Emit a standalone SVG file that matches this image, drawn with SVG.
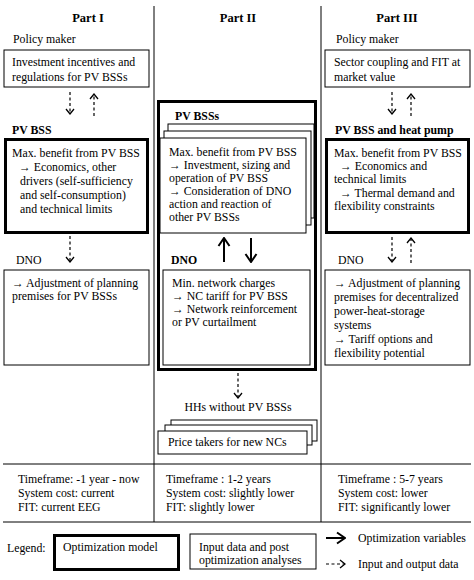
<svg xmlns="http://www.w3.org/2000/svg" width="474" height="580" viewBox="0 0 474 580">
<style>
text{font-family:"Liberation Serif","Times New Roman",serif;font-size:11.8px;fill:#000}
.b{font-weight:bold}
.h{font-weight:bold;font-size:12.5px}
.thin{fill:#fff;stroke:#000;stroke-width:1}
.thick{fill:#fff;stroke:#000;stroke-width:3}
.sep{stroke:#000;stroke-width:1;fill:none}
.dash{stroke:#000;stroke-width:1.2;stroke-dasharray:3,2.5;fill:none;marker-end:url(#openS)}
.solid{stroke:#000;stroke-width:2;fill:none;marker-end:url(#openB)}
</style>
<defs>
<marker id="openS" viewBox="-7 -5 8 10" refX="0" refY="0" markerWidth="8" markerHeight="10" orient="auto" markerUnits="userSpaceOnUse">
<path d="M-5,-4 L0,0 L-5,4" fill="none" stroke="#000" stroke-width="1.3"/>
</marker>
<marker id="openB" viewBox="-10 -7 11 14" refX="0" refY="0" markerWidth="11" markerHeight="14" orient="auto" markerUnits="userSpaceOnUse">
<path d="M-8,-5.5 L0,0 L-8,5.5" fill="none" stroke="#000" stroke-width="2"/>
</marker>
</defs>
<rect width="474" height="580" fill="#fff"/>

<g id="grid">
<line class="sep" x1="154" y1="6" x2="154" y2="522"/>
<line class="sep" x1="321" y1="6" x2="321" y2="522"/>
<line class="sep" x1="3" y1="464" x2="471" y2="464"/>
<line class="sep" x1="3" y1="522" x2="471" y2="522"/>
</g>

<g id="headers">
<text class="h" x="88" y="22" text-anchor="middle">Part I</text>
<text class="h" x="238" y="22" text-anchor="middle">Part II</text>
<text class="h" x="397" y="22" text-anchor="middle">Part III</text>
</g>

<g id="p1-policy">
<text x="13" y="43">Policy maker</text>
<rect class="thin" x="4" y="50" width="145" height="37"/>
<text x="12" y="66">Investment incentives and</text>
<text x="12" y="81">regulations for PV BSSs</text>
</g>

<g id="p1-pvbss">
<text class="b" x="12" y="134">PV BSS</text>
<rect class="thick" x="5.5" y="139.5" width="142" height="93"/>
<text x="12" y="157">Max. benefit from PV BSS</text>
<text x="19" y="171">→ Economics, other</text>
<text x="20" y="185">drivers (self-sufficiency</text>
<text x="20" y="199">and self-consumption)</text>
<text x="20" y="213">and technical limits</text>
</g>

<g id="p1-dno">
<text x="16" y="264">DNO</text>
<rect class="thin" x="4" y="270" width="145" height="95"/>
<text x="12" y="287">→ Adjustment of planning</text>
<text x="12" y="300">premises for PV BSSs</text>
</g>

<g id="p2-model">
<rect class="thick" x="158.5" y="101.5" width="157" height="268"/>
<text class="b" x="175" y="120">PV BSSs</text>
</g>

<g id="p2-pvbss">
<rect class="thin" x="168" y="124" width="146" height="94"/>
<rect class="thin" x="164" y="131" width="147" height="94"/>
<rect class="thin" x="160" y="138" width="146" height="95"/>
<text x="169" y="156">Max. benefit from PV BSS</text>
<text x="169" y="169">→ Investment, sizing and</text>
<text x="169" y="182">operation of PV BSS</text>
<text x="169" y="195">→ Consideration of DNO</text>
<text x="169" y="208">action and reaction of</text>
<text x="169" y="221">other PV BSSs</text>
</g>

<g id="p2-dno">
<text class="b" x="171" y="264">DNO</text>
<rect class="thin" x="163" y="270" width="147" height="95"/>
<text x="172" y="287">Min. network charges</text>
<text x="172" y="300">→ NC tariff for PV BSS</text>
<text x="172" y="313">→ Network reinforcement</text>
<text x="172" y="326">or PV curtailment</text>
</g>

<g id="p2-hh">
<text x="238" y="411" text-anchor="middle">HHs without PV BSSs</text>
<rect class="thin" x="171" y="420" width="146" height="21"/>
<rect class="thin" x="165" y="425" width="147" height="20"/>
<rect class="thin" x="158" y="431" width="149" height="23"/>
<text x="168" y="446">Price takers for new NCs</text>
</g>

<g id="p3-policy">
<text x="336" y="43">Policy maker</text>
<rect class="thin" x="325" y="50" width="145" height="37"/>
<text x="334" y="66">Sector coupling and FIT at</text>
<text x="334" y="81">market value</text>
</g>

<g id="p3-pvbss">
<text class="b" x="335" y="134">PV BSS and heat pump</text>
<rect class="thick" x="326.5" y="139.5" width="142" height="93"/>
<text x="334" y="157">Max. benefit from PV BSS</text>
<text x="340" y="170">→ Economics and</text>
<text x="334" y="183">technical limits</text>
<text x="340" y="197">→ Thermal demand and</text>
<text x="334" y="210">flexibility constraints</text>
</g>

<g id="p3-dno">
<text x="338" y="264">DNO</text>
<rect class="thin" x="325" y="270" width="145" height="95"/>
<text x="334" y="287">→ Adjustment of planning</text>
<text x="334" y="301">premises for decentralized</text>
<text x="334" y="315">power-heat-storage</text>
<text x="334" y="329">systems</text>
<text x="334" y="343">→ Tariff options and</text>
<text x="334" y="357">flexibility potential</text>
</g>

<g id="timeframes">
<text x="18" y="483">Timeframe: -1 year - now</text>
<text x="18" y="497">System cost: current</text>
<text x="18" y="511">FIT: current EEG</text>
<text x="166" y="483">Timeframe : 1-2 years</text>
<text x="166" y="497">System cost: slightly lower</text>
<text x="166" y="511">FIT: slightly lower</text>
<text x="338" y="483">Timeframe : 5-7 years</text>
<text x="338" y="497">System cost: lower</text>
<text x="338" y="511">FIT: significantly lower</text>
</g>

<g id="legend">
<text x="7" y="552">Legend:</text>
<rect class="thick" x="54.5" y="535.5" width="124" height="34"/>
<text x="63" y="551">Optimization model</text>
<rect class="thin" x="190" y="534" width="126" height="35"/>
<text x="199" y="551">Input data and post</text>
<text x="199" y="564">optimization analyses</text>
<line class="solid" x1="326" y1="538" x2="345" y2="538"/>
<text x="358" y="542">Optimization variables</text>
<line class="dash" x1="326" y1="564" x2="345" y2="564"/>
<text x="358" y="568">Input and output data</text>
</g>

<g id="connectors">
<line class="dash" x1="70" y1="92" x2="70" y2="114"/>
<line class="dash" x1="94" y1="116" x2="94" y2="94"/>
<line class="dash" x1="70" y1="236" x2="70" y2="262"/>
<line class="solid" x1="224" y1="262" x2="224" y2="238"/>
<line class="solid" x1="251" y1="238" x2="251" y2="262"/>
<line class="dash" x1="238" y1="373" x2="238" y2="398"/>
<line class="dash" x1="392" y1="92" x2="392" y2="114"/>
<line class="dash" x1="411" y1="116" x2="411" y2="94"/>
<line class="dash" x1="392" y1="237" x2="392" y2="262"/>
<line class="dash" x1="411" y1="263" x2="411" y2="238"/>
</g>
</svg>
